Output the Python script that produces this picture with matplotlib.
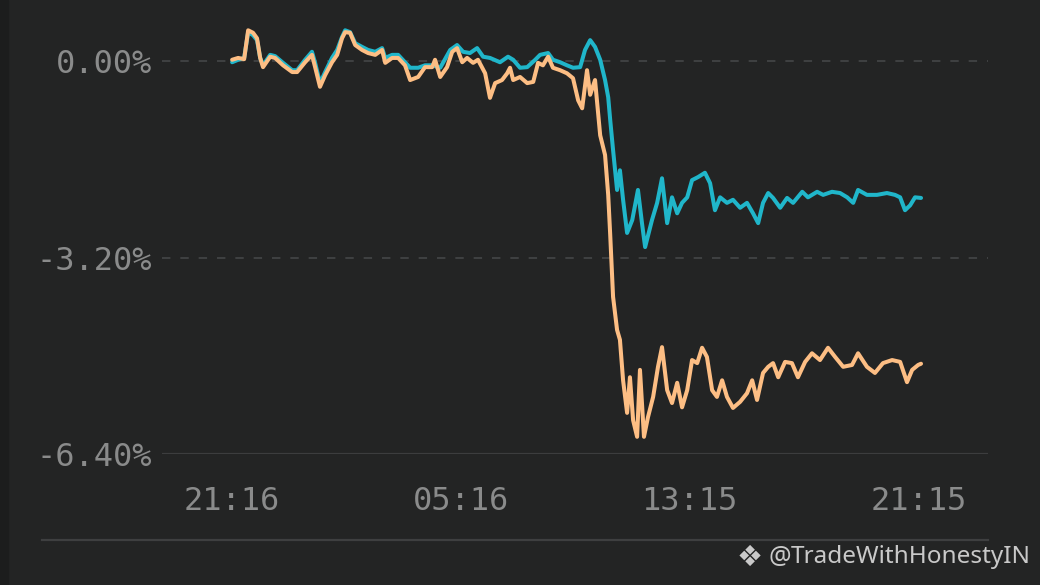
import matplotlib
matplotlib.use("Agg")
import matplotlib.pyplot as plt
import matplotlib.patches as mpatches
from matplotlib.lines import Line2D

# ---- data: hours since 21:16, percent change ----
hours_cyan = [0.00, 0.21, 0.42, 0.56, 0.73, 0.87, 0.98, 1.08, 1.33, 1.50, 1.78, 2.10, 2.27, 2.55, 2.79,
              2.90, 3.07, 3.25, 3.49, 3.67, 3.84, 3.95, 4.12, 4.30, 4.54, 4.75, 5.00, 5.24, 5.35, 5.59,
              5.80, 6.04, 6.22, 6.50, 6.74, 6.99, 7.27, 7.62, 7.86, 8.07, 8.31, 8.56, 8.77, 9.01, 9.36,
              9.64, 9.82, 10.06, 10.31, 10.59, 10.76, 11.04, 11.21, 11.46, 11.70, 11.91, 12.16, 12.33,
              12.51, 12.68, 12.86, 13.03, 13.14, 13.21, 13.31, 13.45, 13.55, 13.66, 13.80, 13.98, 14.18,
              14.32, 14.43, 14.67, 14.85, 15.02, 15.20, 15.37, 15.55, 15.72, 15.90, 16.07, 16.28, 16.52,
              16.70, 16.87, 17.05, 17.29, 17.50, 17.75, 17.99, 18.20, 18.38, 18.55, 18.73, 18.90, 19.15,
              19.39, 19.60, 19.92, 20.12, 20.44, 20.65, 20.96, 21.24, 21.49, 21.70, 21.87, 22.18, 22.53,
              22.88, 23.16, 23.34, 23.51, 23.69, 23.86, 24.07]
pct_cyan = [-0.02, 0.02, 0.05, 0.47, 0.42, 0.34, 0.05, -0.07, 0.10, 0.08, -0.03, -0.15, -0.15, 0.02, 0.15,
            -0.03, -0.36, -0.18, 0.05, 0.18, 0.39, 0.50, 0.47, 0.29, 0.23, 0.18, 0.15, 0.21, 0.05, 0.10,
            0.10, -0.02, -0.11, -0.11, -0.07, -0.07, -0.11, 0.18, 0.26, 0.15, 0.13, 0.21, 0.07, 0.05, -0.02,
            0.07, 0.02, -0.11, -0.10, 0.02, 0.10, 0.13, 0.02, -0.02, -0.07, -0.11, -0.10, 0.18,
            0.34, 0.23, 0.02, -0.31, -0.59, -0.96, -1.45, -2.10, -1.78, -2.26, -2.80, -2.59, -2.10,
            -2.64, -3.03, -2.59, -2.31, -1.91, -2.64, -2.22, -2.48, -2.31, -2.22, -1.94, -1.89, -1.82,
            -1.99, -2.43, -2.22, -2.31, -2.26, -2.39, -2.31, -2.48, -2.64, -2.31, -2.15, -2.23, -2.39,
            -2.23, -2.31, -2.13, -2.22, -2.13, -2.18, -2.13, -2.15, -2.22, -2.31, -2.10, -2.18, -2.18,
            -2.15, -2.18, -2.22, -2.43, -2.35, -2.22, -2.23]

hours_orange = [0.00, 0.21, 0.42, 0.56, 0.73, 0.87, 0.98, 1.08, 1.33, 1.50, 1.78, 2.10, 2.27, 2.55, 2.79,
                2.90, 3.07, 3.25, 3.49, 3.67, 3.84, 3.95, 4.12, 4.30, 4.54, 4.75, 5.00, 5.24, 5.35, 5.59,
                5.80, 6.04, 6.22, 6.50, 6.74, 6.99, 7.09, 7.27, 7.51, 7.69, 7.86, 8.04, 8.21, 8.42, 8.59,
                8.84, 9.01, 9.19, 9.43, 9.61, 9.71, 9.82, 10.06, 10.31, 10.52, 10.69, 10.86, 11.04, 11.21,
                11.46, 11.70, 11.91, 12.09, 12.23, 12.40, 12.51, 12.68, 12.86, 13.03, 13.14, 13.21, 13.31,
                13.45, 13.55, 13.66, 13.80, 13.90, 14.01, 14.15, 14.25, 14.39, 14.53, 14.71, 14.88, 15.02,
                15.20, 15.37, 15.55, 15.72, 15.90, 16.07, 16.25, 16.42, 16.59, 16.77, 16.94, 17.12, 17.29,
                17.50, 17.75, 17.99, 18.17, 18.34, 18.55, 18.73, 18.90, 19.08, 19.32, 19.56, 19.77, 20.02,
                20.26, 20.54, 20.82, 21.07, 21.35, 21.66, 21.87, 22.18, 22.46, 22.74, 23.06, 23.34, 23.58,
                23.76, 23.97, 24.07]
pct_orange = [0.02, 0.05, 0.03, 0.50, 0.46, 0.37, 0.05, -0.10, 0.07, 0.05, -0.07, -0.18, -0.18, -0.02, 0.10,
              -0.10, -0.42, -0.23, -0.02, 0.10, 0.37, 0.47, 0.46, 0.26, 0.18, 0.13, 0.10, 0.18, -0.03, 0.05,
              0.05, -0.07, -0.31, -0.26, -0.10, -0.10, 0.02, -0.26, -0.10, 0.15, 0.21, -0.02, 0.05, -0.03, 0.02,
              -0.20, -0.60, -0.36, -0.31, -0.20, -0.11, -0.31, -0.26, -0.36, -0.34, -0.03, -0.07, 0.07, -0.11,
              -0.15, -0.20, -0.28, -0.64, -0.77, -0.15, -0.55, -0.31, -1.21, -1.53, -2.18, -2.83, -3.84,
              -4.38, -4.54, -5.20, -5.73, -5.15, -5.85, -6.12, -5.03, -6.12, -5.80, -5.47, -4.98, -4.66,
              -5.36, -5.57, -5.24, -5.64, -5.36, -4.87, -4.92, -4.67, -4.82, -5.36, -5.47, -5.20, -5.47,
              -5.65, -5.55, -5.41, -5.20, -5.52, -5.08, -4.98, -4.92, -5.15, -4.90, -4.92, -5.15, -4.90,
              -4.76, -4.87, -4.67, -4.82, -4.98, -4.95, -4.76, -4.98, -5.08, -4.92, -4.87, -4.90, -5.23,
              -5.03, -4.95, -4.93]

x_tick_hours = [0.0, 8.0, 15.98, 23.98]
x_tick_labels = ["21:16", "05:16", "13:15", "21:15"]
y_ticks = [0.0, -3.2, -6.4]
y_tick_labels = ["0.00%", "-3.20%", "-6.40%"]

BG = "#232424"
CYAN = "#20b6ca"
ORANGE = "#fdbe84"
GRID = "#47494a"
TXT = "#8a8b8b"

W, H = 1040, 585
fig = plt.figure(figsize=(W / 100, H / 100), dpi=100, facecolor=BG)

def fx(px):
    return px / W

def fy(py):
    return 1 - py / H

ax = fig.add_axes([fx(162), fy(454), fx(988) - fx(162), fy(0) - fy(454)])
ax.set_facecolor(BG)
ax.set_xlim(-2.45, 26.41)
ax.set_ylim(-6.4, 0.9935)
for s in ax.spines.values():
    s.set_visible(False)

for yv in y_ticks[:-1]:
    ax.axhline(yv, color=GRID, lw=1.1, dashes=(5.5, 6.5), zorder=1)
ax.axhline(y_ticks[-1], color="#3c3d3e", lw=1.6, zorder=1)

ax.plot(hours_cyan, pct_cyan, color=CYAN, lw=2.9, solid_joinstyle="round", solid_capstyle="round", zorder=3)
ax.plot(hours_orange, pct_orange, color=ORANGE, lw=2.9, solid_joinstyle="round", solid_capstyle="round", zorder=4)

ax.set_xticks(x_tick_hours)
ax.set_xticklabels(x_tick_labels)
ax.set_yticks(y_ticks)
ax.set_yticklabels(y_tick_labels)
ax.tick_params(axis="both", length=0, colors=TXT, labelsize=23)
ax.tick_params(axis="x", pad=23)
ax.tick_params(axis="y", pad=7)
for lab in ax.get_xticklabels() + ax.get_yticklabels():
    lab.set_fontfamily("DejaVu Sans Mono")
    lab.set_color(TXT)

# bottom separator line
fig.add_artist(Line2D([fx(42), fx(988)], [fy(540), fy(540)], color="#3e3f40", lw=1.6))

# left dark strip
fig.add_artist(mpatches.Rectangle((0, 0), fx(8), 1, transform=fig.transFigure,
                                  color="#1c1d1d", zorder=0))

# watermark
fig.text(fx(750), fy(558), "\u2756", fontsize=21, color="#c9c9c9", ha="center", va="center",
         family="DejaVu Sans")
fig.text(fx(768), fy(557), "@", fontsize=18, color="#c9c9c9", ha="left", va="center",
         family="Noto Sans")
fig.text(fx(1031), fy(557), "TradeWithHonestyIN", fontsize=17.5, color="#c9c9c9", ha="right",
         va="center", family="Noto Sans")

fig.savefig("out.png", dpi=100, facecolor=BG)
